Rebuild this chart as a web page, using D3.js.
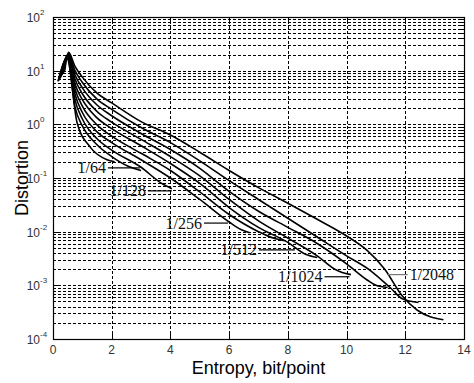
<!DOCTYPE html>
<html>
<head>
<meta charset="utf-8">
<title>Distortion vs entropy</title>
<script src="https://cdnjs.cloudflare.com/ajax/libs/d3/7.8.5/d3.min.js"></script>
<style>
  body { margin: 0; background: #fff; }
  svg { display: block; }
</style>
</head>
<body>
<div id="chart"></div>
<script>
// axis values
var entropyTicks = [0, 2, 4, 6, 8, 10, 12, 14];
var gridEntropy = [2, 4, 6, 8, 10, 12];
var decadeExps = [-4, -3, -2, -1, 0, 1, 2];

// curves: [entropy bit/point, log10 distortion]
var curveA = [[0.40,1.00],[0.53,1.34],[0.75,1.08],[1,0.88],[1.5,0.58],[2,0.40],[3,0.05],[4,-0.20],[5,-0.52],[6,-0.86],[7,-1.18],[8,-1.47],[9,-1.77],[10,-2.08],[10.7,-2.35],[11.3,-2.70],[11.9,-3.20],[12.4,-3.46],[13.3,-3.64]];
var curveB = [[0.37,0.97],[0.52,1.32],[0.75,1.00],[1,0.78],[1.5,0.47],[2,0.28],[3,-0.06],[4,-0.34],[5,-0.68],[6,-1.05],[7,-1.40],[8,-1.75],[9,-2.10],[10,-2.45],[10.8,-2.72],[11.5,-3.05],[11.9,-3.25],[12.45,-3.32]];
var curveC = [[0.34,0.94],[0.52,1.31],[0.75,0.92],[1,0.68],[1.5,0.36],[2,0.16],[3,-0.17],[4,-0.47],[5,-0.82],[6,-1.25],[7,-1.62],[8,-1.92],[9,-2.22],[10,-2.60],[10.7,-2.90],[11.0,-3.00],[11.4,-3.04]];
var curveD = [[0.31,0.92],[0.51,1.30],[0.75,0.84],[1,0.57],[1.5,0.24],[2,0.04],[3,-0.28],[4,-0.60],[5,-0.96],[6,-1.40],[7,-1.80],[8,-2.12],[9,-2.45],[9.6,-2.70],[9.85,-2.76],[10.15,-2.80]];
var curveE = [[0.28,0.89],[0.51,1.29],[0.75,0.75],[1,0.46],[1.5,0.12],[2,-0.08],[3,-0.40],[4,-0.73],[5,-1.10],[6,-1.55],[7,-1.92],[8,-2.20],[8.6,-2.42],[9.0,-2.48]];
var curveF = [[0.25,0.86],[0.50,1.28],[0.75,0.66],[1,0.34],[1.5,-0.01],[2,-0.22],[3,-0.54],[4,-0.86],[5,-1.26],[6,-1.68],[7,-2.00],[7.5,-2.12],[7.9,-2.17]];
var curveG = [[0.22,0.84],[0.50,1.27],[0.75,0.56],[1,0.22],[1.5,-0.14],[2,-0.34],[3,-0.66],[4,-1.00],[5,-1.40],[6,-1.82],[6.4,-1.96],[6.7,-2.02]];
var curveI = [[0.20,0.82],[0.50,1.25],[0.75,0.45],[1,0.10],[1.5,-0.27],[2,-0.48],[3,-0.80],[3.7,-1.10],[4.05,-1.20]];
var curveJ = [[0.18,0.81],[0.49,1.24],[0.75,0.32],[1,-0.03],[1.5,-0.38],[2,-0.60],[2.6,-0.79],[3.0,-0.86]];
var curveK = [[0.17,0.80],[0.48,1.22],[0.82,0.03],[1.26,-0.42],[1.84,-0.66],[2.1,-0.70]];
var curves = [curveA, curveB, curveC, curveD, curveE, curveF, curveG, curveI, curveJ, curveK];

// step size annotations: text and the curve point the leader touches
var stepLabels = ["1/64", "1/128", "1/256", "1/512", "1/1024", "1/2048"];
var labelEntropy = [2.96, 4.05, 5.96, 8.24, 10.1, 11.4];
var labelLogD = [-0.81, -1.24, -1.84, -2.34, -2.84, -2.80];
var leaderLen = [32, 24, 24, 36, 25, 20];

var W = 474, H = 383;
var margin = {top: 17, right: 10, bottom: 44, left: 53};

var x = d3.scaleLinear().domain([0, 14]).range([margin.left, W - margin.right]);
var y = d3.scaleLog().domain([1e-4, 1e2]).range([H - margin.bottom, margin.top]);

var svg = d3.select("#chart").append("svg")
    .attr("width", W)
    .attr("height", H);

var x0 = x(0), x1 = x(14), y0 = y(1e-4), y1 = y(1e2);

// grid
var gridColor = "#000";
svg.append("g").selectAll("line")
    .data(y.ticks())
  .enter().append("line")
    .attr("x1", x0).attr("x2", x1)
    .attr("y1", function(d) { return Math.round(y(d)) + 0.5; })
    .attr("y2", function(d) { return Math.round(y(d)) + 0.5; })
    .attr("stroke", gridColor)
    .attr("stroke-width", 1)
    .attr("stroke-dasharray", "3,2");

svg.append("g").selectAll("line")
    .data(gridEntropy)
  .enter().append("line")
    .attr("x1", function(d) { return Math.round(x(d)) + 0.5; })
    .attr("x2", function(d) { return Math.round(x(d)) + 0.5; })
    .attr("y1", y0).attr("y2", y1)
    .attr("stroke", gridColor)
    .attr("stroke-width", 1)
    .attr("stroke-dasharray", "3,2");

// ticks inside the box
var tickG = svg.append("g").attr("stroke", "#000").attr("stroke-width", 1);
entropyTicks.forEach(function(t) {
  var px = Math.round(x(t)) + 0.5;
  tickG.append("line").attr("x1", px).attr("x2", px).attr("y1", y0).attr("y2", y0 - 5);
  tickG.append("line").attr("x1", px).attr("x2", px).attr("y1", y1).attr("y2", y1 + 5);
});
y.ticks().forEach(function(t) {
  var py = Math.round(y(t)) + 0.5;
  var major = Math.abs(Math.log10(t) - Math.round(Math.log10(t))) < 1e-9;
  var len = major ? 5 : 3;
  tickG.append("line").attr("x1", x0).attr("x2", x0 + len).attr("y1", py).attr("y2", py);
  tickG.append("line").attr("x1", x1).attr("x2", x1 - len).attr("y1", py).attr("y2", py);
});

// box
svg.append("rect")
    .attr("x", Math.round(x0) + 0.5).attr("y", Math.round(y1) + 0.5)
    .attr("width", Math.round(x1) - Math.round(x0))
    .attr("height", Math.round(y0) - Math.round(y1))
    .attr("fill", "none")
    .attr("stroke", "#000")
    .attr("stroke-width", 1.2);

// curves
var line = d3.line()
    .x(function(d) { return x(d[0]); })
    .y(function(d) { return y(Math.pow(10, d[1])); })
    .curve(d3.curveMonotoneX);

svg.append("g").selectAll("path")
    .data(curves)
  .enter().append("path")
    .attr("d", line)
    .attr("fill", "none")
    .attr("stroke", "#000")
    .attr("stroke-width", 1.6)
    .attr("stroke-linejoin", "round");

// step size labels with leader lines
var serif = "'Liberation Serif', 'Times New Roman', serif";
stepLabels.forEach(function(s, i) {
  var tx = x(labelEntropy[i]);
  var ty = y(Math.pow(10, labelLogD[i]));
  var right = i === stepLabels.length - 1;
  var lx = right ? tx + leaderLen[i] : tx - leaderLen[i];
  svg.append("line")
      .attr("x1", tx).attr("x2", lx)
      .attr("y1", ty).attr("y2", ty)
      .attr("stroke", right ? "#777" : "#000")
      .attr("stroke-width", 1.2);
  svg.append("text")
      .attr("x", right ? lx + 2 : lx - 2)
      .attr("y", ty + 5.5)
      .attr("text-anchor", right ? "start" : "end")
      .attr("font-family", serif)
      .attr("font-size", 16)
      .attr("fill", "#111")
      .text(s);
});

// tick labels
var sans = "'Liberation Sans', Arial, sans-serif";
svg.append("g").selectAll("text")
    .data(entropyTicks)
  .enter().append("text")
    .attr("x", function(d) { return x(d); })
    .attr("y", y0 + 15)
    .attr("text-anchor", "middle")
    .attr("font-family", sans)
    .attr("font-size", 12)
    .attr("fill", "#333")
    .text(function(d) { return d; });

var yl = svg.append("g");
decadeExps.forEach(function(k) {
  var py = y(Math.pow(10, k));
  yl.append("text")
      .attr("x", x0 - 13)
      .attr("y", py + 5)
      .attr("text-anchor", "end")
      .attr("font-family", sans)
      .attr("font-size", 12)
      .attr("fill", "#333")
      .text("10");
  yl.append("text")
      .attr("x", x0 - 13)
      .attr("y", py - 2)
      .attr("text-anchor", "start")
      .attr("font-family", sans)
      .attr("font-size", 8)
      .attr("fill", "#333")
      .text(k < 0 ? "-" + (-k) : k);
});

// axis titles
svg.append("text")
    .attr("x", (x0 + x1) / 2)
    .attr("y", 374)
    .attr("text-anchor", "middle")
    .attr("font-family", sans)
    .attr("font-size", 18)
    .attr("fill", "#000")
    .text("Entropy, bit/point");

svg.append("text")
    .attr("transform", "translate(28," + ((y0 + y1) / 2) + ") rotate(-90)")
    .attr("text-anchor", "middle")
    .attr("font-family", sans)
    .attr("font-size", 18)
    .attr("fill", "#000")
    .text("Distortion");
</script>
</body>
</html>
